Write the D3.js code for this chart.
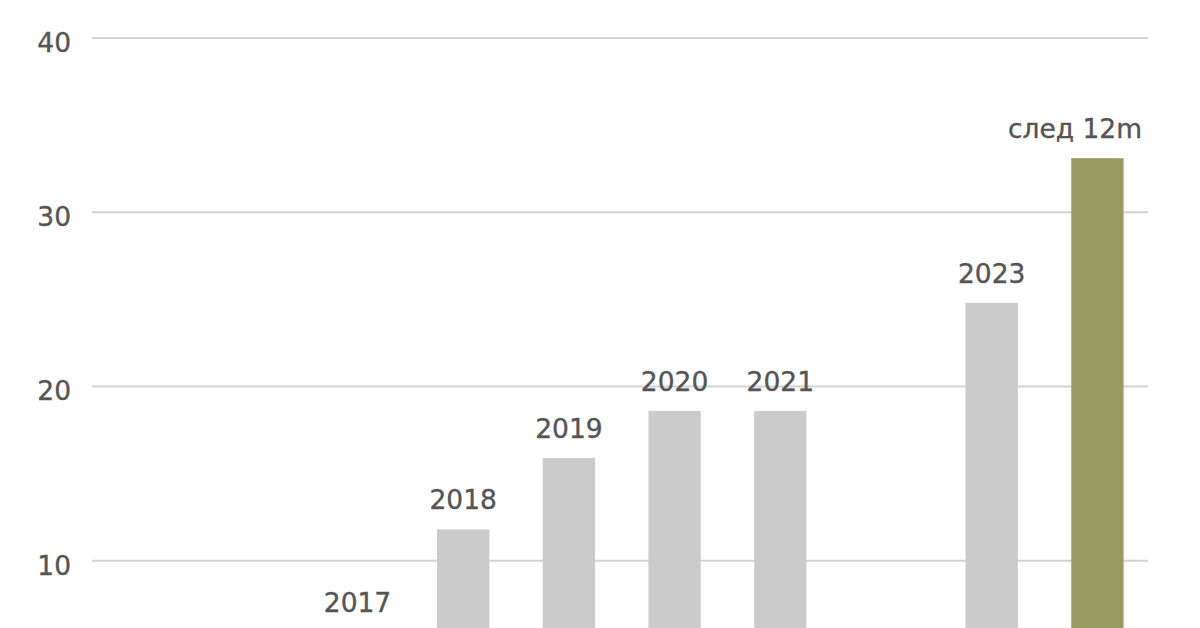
<!DOCTYPE html>
<html>
<head>
<meta charset="utf-8">
<script src="https://cdn.jsdelivr.net/npm/d3@7"></script>
<style>
  html, body { margin: 0; padding: 0; background: #fff; }
  svg { display: block; overflow: hidden; }
  text { font-family: "DejaVu Sans", Verdana, sans-serif; fill: #555; stroke: #555; stroke-width: 0.35px; }
</style>
</head>
<body>
<script>
// categories and values (2015, 2016, 2022: no bar visible)
var years = ["2015", "2016", "2017", "2018", "2019", "2020", "2021", "2022", "2023", "след 12m"];
var values = [null, null, 5.9, 11.8, 15.9, 18.6, 18.6, null, 24.8, 33.1];
var yTicks = [10, 20, 30, 40];
var highlight = "след 12m";

var width = 1200;
var height = 628;
var left = 92, right = 1148;

var data = years.map((y, i) => ({year: y, value: values[i]}));

var x = d3.scaleBand()
    .domain(years)
    .range([left + 1.5, right + 2])
    .paddingInner(0.505)
    .paddingOuter(0.25);

// zero line sits below the visible frame
var y = d3.scaleLinear()
    .domain([0, 40])
    .range([735, 38]);

var svg = d3.select("body")
    .append("svg")
        .attr("width", width)
        .attr("height", height);

// Grid
svg.append("g")
    .attr("class", "grid")
    .selectAll("line")
    .data(yTicks)
    .enter()
    .append("line")
        .attr("x1", left)
        .attr("x2", right)
        .attr("y1", d => y(d))
        .attr("y2", d => y(d))
        .attr("stroke", "#d2d2d2")
        .attr("stroke-width", 2);

// Tick labels
var leftAxis = d3.axisLeft(y)
    .tickValues(yTicks)
    .tickSize(0)
    .tickPadding(0);
var ax = svg.append("g")
    .attr("class", "y-axis")
    .attr("transform", "translate(71, 0)")
    .call(leftAxis);
ax.select(".domain").remove();
ax.selectAll("text")
    .attr("dy", "0.5em")
    .style("font-size", "26.5px")
    .style("font-family", "'DejaVu Sans', Verdana, sans-serif")
    .attr("fill", "#555");

// Bars
var bars = data.filter(d => d.value != null);
svg.selectAll("rect.bar")
    .data(bars)
    .enter()
    .append("rect")
        .attr("class", "bar")
        .attr("x", d => x(d.year))
        .attr("y", d => y(d.value))
        .attr("width", x.bandwidth())
        .attr("height", d => y(0) - y(d.value))
        .attr("fill", d => d.year == highlight ? "#999963" : "#cbcbcb");

// Category labels above bars, kept inside the plot on the right
svg.selectAll("text.label")
    .data(bars)
    .enter()
    .append("text")
        .attr("class", "label")
        .attr("x", d => x(d.year) + x.bandwidth() / 2)
        .attr("y", d => y(d.value) - 20)
        .attr("text-anchor", "middle")
        .style("font-size", "26.5px")
        .text(d => d.year)
        .each(function(d) {
            var w = this.getComputedTextLength();
            var cx = x(d.year) + x.bandwidth() / 2;
            if (cx + w / 2 > right - 6) {
                d3.select(this).attr("x", right - 6 - w / 2);
            }
        });
</script>
</body>
</html>
